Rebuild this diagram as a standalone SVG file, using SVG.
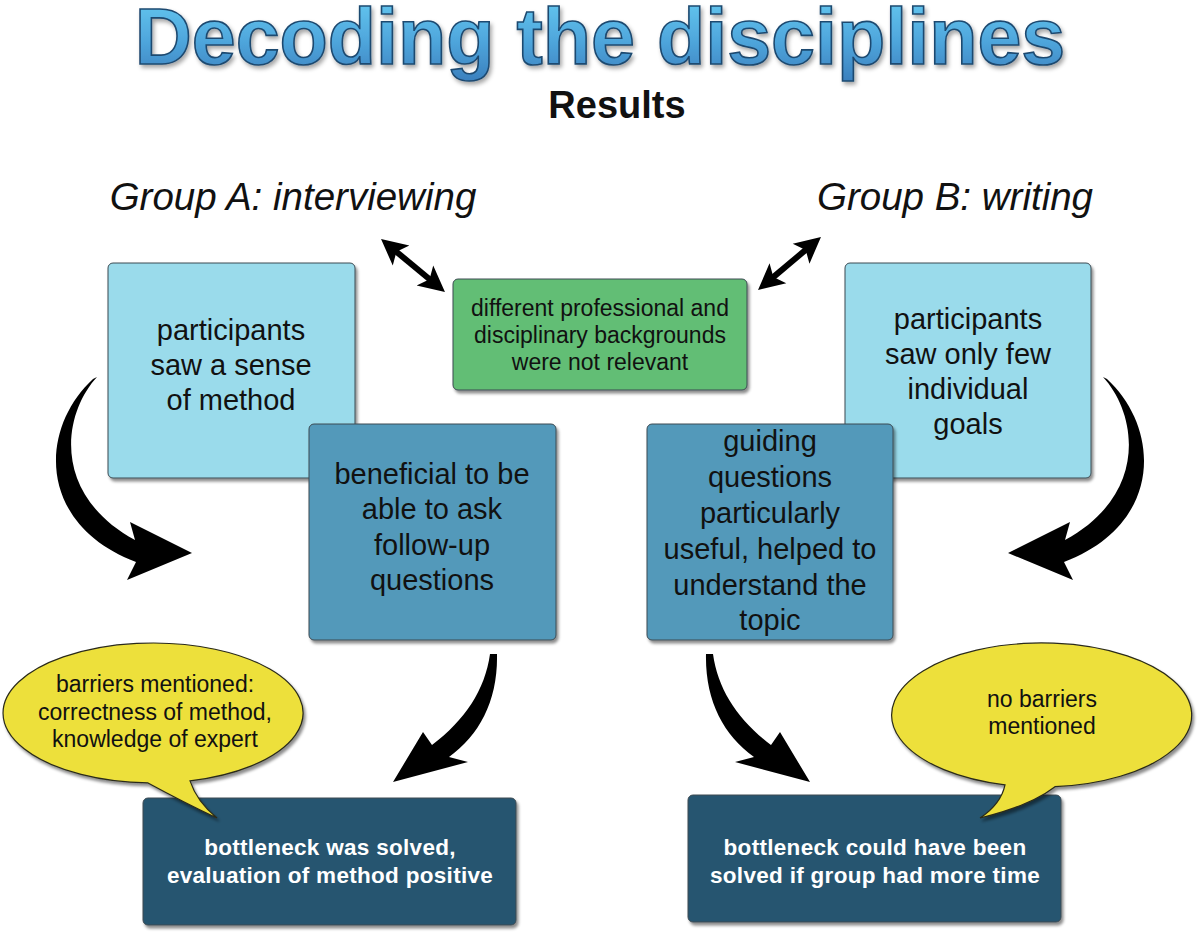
<svg xmlns="http://www.w3.org/2000/svg" width="1200" height="936" viewBox="0 0 1200 936">
<defs>
  <linearGradient id="titleGrad" x1="0" y1="0" x2="0" y2="1">
    <stop offset="0" stop-color="#66CCF2"/>
    <stop offset="0.55" stop-color="#4FA6DC"/>
    <stop offset="1" stop-color="#3A80BE"/>
  </linearGradient>
  <filter id="shadow" x="-10%" y="-10%" width="125%" height="130%">
    <feDropShadow dx="2" dy="3" stdDeviation="1.8" flood-color="#000" flood-opacity="0.45"/>
  </filter>
  <filter id="tshadow" x="-5%" y="-30%" width="110%" height="170%">
    <feDropShadow dx="2" dy="3" stdDeviation="2" flood-color="#000" flood-opacity="0.35"/>
  </filter>
  <marker id="head" markerUnits="userSpaceOnUse" viewBox="0 -14 26 28" refX="8" refY="0" markerWidth="26" markerHeight="28" orient="auto-start-reverse">
    <path d="M0 -13 L26 0 L0 13 L6 0 Z" fill="#000"/>
  </marker>
</defs>
<style>
  .box { stroke: #3c4a52; stroke-width: 1; filter: url(#shadow); }
  .light { fill: #9ADBEB; }
  .mid { fill: #5399BA; }
  .green { fill: #62BE74; }
  .dark { fill: #265470; }
  .bubble { fill: #EDE03B; stroke: #2a2a1a; stroke-width: 1.2; filter: url(#shadow); }
  .t { font-family: "Liberation Sans", Arial, sans-serif; fill: #111; text-anchor: middle; }
  .t29 { font-size: 29px; }
  .t23 { font-size: 23px; }
  .tw { font-family: "Liberation Sans", Arial, sans-serif; fill: #fff; font-weight: bold; font-size: 22.5px; text-anchor: middle; letter-spacing: 0.3px; }
  .grp { font-family: "Liberation Sans", Arial, sans-serif; font-style: italic; font-size: 38.5px; fill: #111; text-anchor: middle; }
  .arrow { fill: #000; }
  .dbl { stroke: #000; stroke-width: 6; fill: none; marker-start: url(#head); marker-end: url(#head); }
</style>
<rect width="1200" height="936" fill="#fff"/>

<g id="title">
  <text x="600" y="64" font-family="Liberation Sans, Arial, sans-serif" font-weight="bold" font-size="79" text-anchor="middle" fill="url(#titleGrad)" stroke="#1E4A70" stroke-width="1.6" filter="url(#tshadow)">Decoding the disciplines</text>
  <text x="617" y="118" class="t" font-weight="bold" font-size="38">Results</text>
</g>

<g id="groupA-label"><text x="293" y="210" class="grp">Group A: interviewing</text></g>
<g id="groupB-label"><text x="955" y="210" class="grp">Group B: writing</text></g>

<g id="boxA1">
  <rect class="box light" x="108" y="263" width="247" height="215" rx="5"/>
  <text class="t t29" x="231" y="340">participants</text>
  <text class="t t29" x="231" y="375">saw a sense</text>
  <text class="t t29" x="231" y="410">of method</text>
</g>
<g id="boxA2">
  <rect class="box mid" x="309" y="424" width="247" height="216" rx="5"/>
  <text class="t t29" x="432" y="484">beneficial to be</text>
  <text class="t t29" x="432" y="519">able to ask</text>
  <text class="t t29" x="432" y="555">follow-up</text>
  <text class="t t29" x="432" y="590">questions</text>
</g>
<g id="boxB1">
  <rect class="box light" x="845" y="263" width="246" height="215" rx="5"/>
  <text class="t t29" x="968" y="329">participants</text>
  <text class="t t29" x="968" y="364">saw only few</text>
  <text class="t t29" x="968" y="399">individual</text>
  <text class="t t29" x="968" y="434">goals</text>
</g>
<g id="boxB2">
  <rect class="box mid" x="647" y="424" width="246" height="216" rx="5"/>
  <text class="t t29" x="770" y="451">guiding</text>
  <text class="t t29" x="770" y="487">questions</text>
  <text class="t t29" x="770" y="523">particularly</text>
  <text class="t t29" x="770" y="559">useful, helped to</text>
  <text class="t t29" x="770" y="595">understand the</text>
  <text class="t t29" x="770" y="630">topic</text>
</g>
<g id="boxCenter">
  <rect class="box green" x="453" y="279" width="294" height="111" rx="5"/>
  <text class="t t23" x="600" y="316">different professional and</text>
  <text class="t t23" x="600" y="343">disciplinary backgrounds</text>
  <text class="t t23" x="600" y="370">were not relevant</text>
</g>
<g id="resultA">
  <rect class="box dark" x="143" y="798" width="373" height="127" rx="5"/>
  <text class="tw" x="330" y="855">bottleneck was solved,</text>
  <text class="tw" x="330" y="883">evaluation of method positive</text>
</g>
<g id="resultB">
  <rect class="box dark" x="688" y="795" width="373" height="127" rx="5"/>
  <text class="tw" x="875" y="855">bottleneck could have been</text>
  <text class="tw" x="875" y="883">solved if group had more time</text>
</g>
<g id="bubbleA">
  <path class="bubble" d="M 190 780.84 A 150 70 0 1 0 148 782.96 Q 185 803 217 818 Q 197 802 190 780.84 Z"/>
  <text class="t t23" x="155" y="692">barriers mentioned:</text>
  <text class="t t23" x="155" y="720">correctness of method,</text>
  <text class="t t23" x="155" y="747">knowledge of expert</text>
</g>
<g id="bubbleB">
  <path class="bubble" d="M 1005 784.8 A 150 72 0 1 1 1055 786.7 Q 1030 806 980 818 Q 1001 804 1005 784.8 Z"/>
  <text class="t t23" x="1042" y="707">no barriers</text>
  <text class="t t23" x="1042" y="734">mentioned</text>
</g>

<g id="connectors">
  <line class="dbl" x1="394.9" y1="250.5" x2="431.1" y2="280.5"/>
  <line class="dbl" x1="807.2" y1="248.6" x2="771.8" y2="278.4"/>
  <path id="bigArrowL" class="arrow" d="M 97 377 C 62 415, 52 495, 135 540 L 130 522 L 192 553 L 127 580 L 136 562 C 38 525, 38 430, 93 379 Z"/>
  <path id="bigArrowR" class="arrow" transform="matrix(-1 0 0 1 1200 0)" d="M 97 377 C 62 415, 52 495, 135 540 L 130 522 L 192 553 L 127 580 L 136 562 C 38 525, 38 430, 93 379 Z"/>
  <path id="lowArrowL" class="arrow" d="M 490 654 L 497 654 C 498 700, 480 735, 449 757 L 468 762 L 393 782 L 423 732 L 432 745 C 465 720, 485 690, 490 654 Z"/>
  <path id="lowArrowR" class="arrow" transform="matrix(-1 0 0 1 1203 0)" d="M 490 654 L 497 654 C 498 700, 480 735, 449 757 L 468 762 L 393 782 L 423 732 L 432 745 C 465 720, 485 690, 490 654 Z"/>
</g>
</svg>
